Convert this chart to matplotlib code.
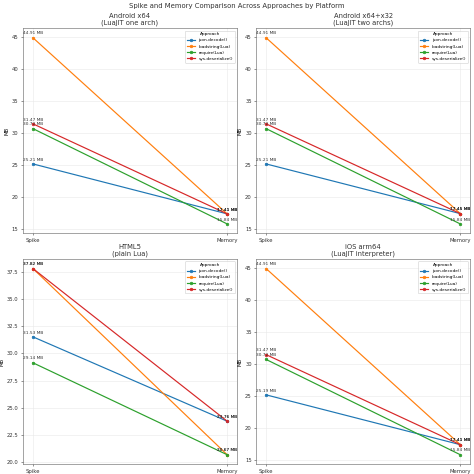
import matplotlib
matplotlib.use("Agg")
import matplotlib.pyplot as plt

stages = ["Spike", "Memory"]
approaches = ["json.decode()", "loadstring(Lua)", "require(Lua)", "sys.deserialize()"]
colors = ["#1f77b4", "#ff7f0e", "#2ca02c", "#d62728"]

platforms = [
    "Android x64\n(LuaJIT one arch)",
    "Android x64+x32\n(LuaJIT two archs)",
    "HTML5\n(plain Lua)",
    "iOS arm64\n(LuaJIT interpreter)",
]

# [spike, memory] per approach, one list per platform
android_x64 = [[25.21, 17.41], [44.91, 17.41], [30.72, 15.84], [31.47, 17.41]]
android_x64_x32 = [[25.21, 17.45], [44.91, 17.45], [30.72, 15.84], [31.47, 17.45]]
html5 = [[31.53, 23.76], [37.82, 20.67], [29.14, 20.67], [37.82, 23.76]]
ios_arm64 = [[25.19, 17.41], [44.91, 17.41], [30.72, 15.84], [31.47, 17.41]]
all_data = [android_x64, android_x64_x32, html5, ios_arm64]

fig, axes = plt.subplots(2, 2, figsize=(10, 10), dpi=47.4)
fig.suptitle("Spike and Memory Comparison Across Approaches by Platform",
             fontsize=10.5, color="#333333", y=0.993)

for ax, title, data in zip(axes.flat, platforms, all_data):
    for name, vals, c in zip(approaches, data, colors):
        ax.plot(stages, vals, marker="o", markersize=4, linewidth=1.8, color=c, label=name)
        for x, v in zip(stages, vals):
            ax.annotate(f"{v:.2f} MB", (x, v), textcoords="offset points", xytext=(0, 5),
                        ha="center", fontsize=6.5, color="#333333")
    ax.set_title(title, fontsize=10.3, color="#333333", linespacing=1.1)
    ax.set_ylabel("MB", fontsize=8)
    ax.grid(True, color="#e8e8e8", linewidth=0.8)
    ax.legend(title="Approach", fontsize=6.5, title_fontsize=6.5, loc="upper right")
    for s in ax.spines.values():
        s.set_color("#555555")
    ax.tick_params(colors="#333333", labelsize=8)

plt.subplots_adjust(left=0.049, right=0.9916, top=0.940, bottom=0.021,
                    wspace=0.0913, hspace=0.127)
plt.savefig("out.png")
